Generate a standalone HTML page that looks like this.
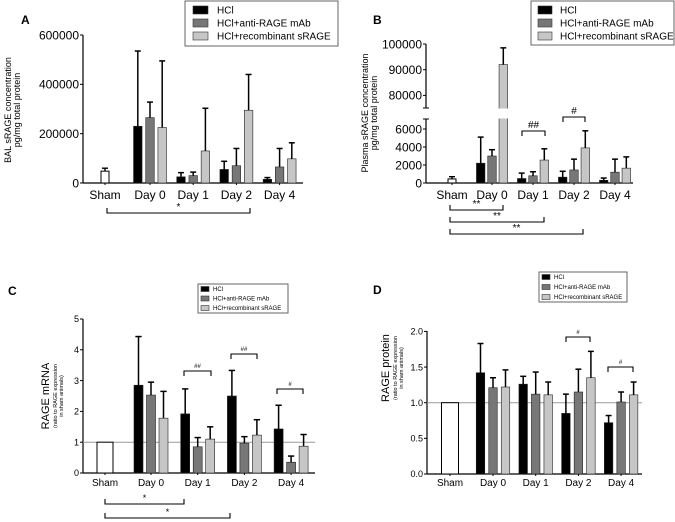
<!DOCTYPE html>
<html><head><meta charset="utf-8"><style>
body{margin:0;background:#fff}
svg{display:block;font-family:"Liberation Sans",Arial,sans-serif}
</style></head><body>
<svg id="fig" width="675" height="522" viewBox="0 0 675 522"></svg>
<script>
const groups = ["Day 0","Day 1","Day 2","Day 4"];
const seriesNames = ["HCl","HCl+anti-RAGE mAb","HCl+recombinant sRAGE"];
// Panel A
const aSham = [48000, 60000];
const aHCl = [230000, 25000, 55000, 15000];
const aHClErr = [535000, 42000, 88000, 22000];
const aAnti = [265000, 30000, 70000, 65000];
const aAntiErr = [328000, 44000, 140000, 140000];
const aRec = [225000, 130000, 295000, 98000];
const aRecErr = [495000, 303000, 440000, 163000];
const aTicks = [0, 200000, 400000, 600000];
// Panel B
const bSham = [450, 700];
const bHCl = [2200, 500, 650, 300];
const bHClErr = [5100, 1100, 1300, 550];
const bAnti = [3000, 800, 1450, 1200];
const bAntiErr = [3700, 1250, 2650, 2650];
const bRec = [92000, 2550, 3900, 1650];
const bRecErr = [98500, 3800, 5800, 2900];
const bTicksLow = [0, 2000, 4000, 6000];
const bTicksHigh = [80000, 90000, 100000];
// Panel C
const cSham = [1, 1];
const cHCl = [2.85, 1.92, 2.5, 1.43];
const cHClErr = [4.43, 2.73, 3.33, 2.2];
const cAnti = [2.53, 0.85, 0.97, 0.35];
const cAntiErr = [2.95, 1.15, 1.18, 0.55];
const cRec = [1.78, 1.1, 1.23, 0.87];
const cRecErr = [2.65, 1.5, 1.73, 1.25];
const cTicks = [0, 1, 2, 3, 4, 5];
// Panel D
const dSham = [1, 1];
const dHCl = [1.42, 1.26, 0.85, 0.72];
const dHClErr = [1.83, 1.37, 1.12, 0.82];
const dAnti = [1.21, 1.12, 1.15, 1.01];
const dAntiErr = [1.35, 1.43, 1.47, 1.15];
const dRec = [1.22, 1.11, 1.35, 1.11];
const dRecErr = [1.46, 1.29, 1.72, 1.29];
const dTicks = [0, 0.5, 1.0, 1.5, 2.0];

const NS = "http://www.w3.org/2000/svg";
const svg = document.getElementById("fig");
const colors = ["#000000", "#777777", "#c6c6c6"];
function mk(tag, attrs, parent, text) {
  const e = document.createElementNS(NS, tag);
  for (const k in attrs) e.setAttribute(k, attrs[k]);
  if (text !== undefined) e.textContent = text;
  (parent || svg).appendChild(e);
  return e;
}
function line(x1, y1, x2, y2, sw, col, g) {
  return mk("line", {x1: x1, y1: y1, x2: x2, y2: y2, stroke: col || "#000", "stroke-width": sw || 1}, g);
}

function panel(cfg) {
  const g = mk("g", {});
  
  
  const y = cfg.y;
  const ax = mk("g", {}, g);
  
  
  if (cfg.broken) {
    line(cfg.x0, cfg.topY, cfg.x0, cfg.breakHi, 1.2, "#000", ax);
    line(cfg.x0, cfg.breakLo, cfg.x0, cfg.y0, 1.2, "#000", ax);
  } else {
    line(cfg.x0, cfg.topY, cfg.x0, cfg.y0, 1.2, "#000", ax);
  }
  cfg.ticks.forEach((t) => {
    const ty = y(t);
    line(cfg.x0 - 3, ty, cfg.x0, ty, 1, "#000", ax);
    const lbl = mk("text", {x: cfg.x0 - 4, y: ty + cfg.tfs * 0.36, "font-size": cfg.tfs, "text-anchor": "end"}, ax, cfg.tickFmt(t));
    
    
  });
  const xa = line(cfg.x0, cfg.y0, cfg.x1, cfg.y0, 1.2, "#000", g);
  
  
  if (cfg.refLine) {
    const rl = mk("line", {x1: cfg.x0, x2: cfg.x1, y1: y(1), y2: y(1), stroke: "#999", "stroke-width": 1}, g);
    
    
  }
  const shamCats = ["Sham"].concat(groups);
  const sb = mk("rect", {x: cfg.shamX - cfg.shamW / 2, y: y(cfg.sham[0]), width: cfg.shamW, height: cfg.y0 - y(cfg.sham[0]), fill: "#fff", stroke: "#000", "stroke-width": 1}, g);
  
  
  if (cfg.sham[1] > cfg.sham[0]) {
    line(cfg.shamX, y(cfg.sham[0]), cfg.shamX, y(cfg.sham[1]), 1.4, "#000", g);
    line(cfg.shamX - 3, y(cfg.sham[1]), cfg.shamX + 3, y(cfg.sham[1]), 1.4, "#000", g);
  }
  const series = [[cfg.hcl, cfg.hclE], [cfg.anti, cfg.antiE], [cfg.rec, cfg.recE]];
  groups.forEach((gn, gi) => {
    const cx = cfg.g0 + gi * cfg.gs;
    series.forEach((s, si) => {
      const bx = cx + (si - 1) * cfg.step - cfg.bw / 2;
      const v = s[0][gi], ev = s[1][gi];
      const top = y(v);
      const r = mk("rect", {x: bx, y: top, width: cfg.bw, height: cfg.y0 - top, fill: colors[si], stroke: "#222", "stroke-width": 0.6}, g);
      
      
      if (cfg.broken && top < cfg.breakHi) {
        mk("rect", {x: bx - 1, y: cfg.breakHi + 0.5, width: cfg.bw + 2, height: cfg.breakLo - cfg.breakHi - 1, fill: "#fff"}, g);
      }
      const ex = bx + cfg.bw / 2;
      line(ex, top, ex, y(ev), 1.5, "#000", g);
      line(ex - cfg.bw * 0.35, y(ev), ex + cfg.bw * 0.35, y(ev), 1.5, "#000", g);
    });
  });
  if (cfg.broken) {
    line(cfg.x0 - 3, cfg.breakHi, cfg.x0 + 3, cfg.breakHi, 1, "#000", g);
    line(cfg.x0 - 3, cfg.breakLo, cfg.x0 + 3, cfg.breakLo, 1, "#000", g);
  }
  shamCats.forEach((c, i) => {
    const cx = i === 0 ? cfg.shamX : cfg.g0 + (i - 1) * cfg.gs;
    line(cx, cfg.y0, cx, cfg.y0 + 2, 1, "#000", g);
    const t = mk("text", {x: cx, y: cfg.labY, "font-size": cfg.xfs, "text-anchor": "middle"}, g, c);
    
    
  });
  const tt = mk("text", {transform: `translate(${cfg.ytX},${cfg.ytY}) rotate(-90)`, "font-size": cfg.ytFs, "text-anchor": "middle"}, g);
  
  
  cfg.ytLines.forEach((l, i) => mk("tspan", {x: 0, dy: i === 0 ? 0 : l[1], "font-size": l[2]}, tt, l[0]));
  const L = mk("text", {x: cfg.letter[1], y: cfg.letter[2], "font-size": 12, "font-weight": "bold"}, g, cfg.letter[0]);
  
  
  const lg = mk("g", {}, g);
  
  
  const Lc = cfg.legend;
  mk("rect", {x: Lc.x, y: Lc.y, width: Lc.w, height: Lc.h, fill: "#fff", stroke: "#666", "stroke-width": 1}, lg);
  seriesNames.forEach((n, i) => {
    const ey = Lc.y + Lc.pad + i * Lc.dy;
    const e = mk("g", {}, lg);
    
    
    mk("rect", {x: Lc.x + Lc.sx, y: ey - Lc.sh / 2, width: Lc.sw, height: Lc.sh, fill: colors[i], stroke: "#333", "stroke-width": 0.6}, e);
    mk("text", {x: Lc.x + Lc.sx + Lc.sw + Lc.gap, y: ey + Lc.fs * 0.36, "font-size": Lc.fs}, e, n);
  });
  cfg.brackets.forEach(b => {
    const bg = mk("g", {}, g);
    
    
    const d = b.down ? 5 : -5;
    mk("path", {d: `M${b.x1},${b.y + d}V${b.y}H${b.x2}V${b.y + d}`, fill: "none", stroke: "#000", "stroke-width": 1.1}, bg);
    mk("text", {x: (b.x1 + b.x2) / 2, y: b.y - 3, "font-size": b.fs || 9, "text-anchor": "middle"}, bg, b.t);
  });
}

panel({id: "panel-a", x0: 83, x1: 303, y0: 183, topY: 35,
  y: v => 183 - v / 600000 * 148, ticks: aTicks, tickFmt: t => String(t), tfs: 12,
  sham: aSham, shamX: 105, shamW: 8, hcl: aHCl, hclE: aHClErr, anti: aAnti, antiE: aAntiErr, rec: aRec, recE: aRecErr,
  g0: 150, gs: 43.2, step: 12.2, bw: 8.5, labY: 199, xfs: 12,
  ytX: 11, ytY: 110, ytFs: 9, ytLines: [["BAL sRAGE concentration", 0, 9], ["pg/mg total protein", 9, 9]],
  letter: ["A", 21, 24],
  legend: {x: 185, y: 1, w: 153, h: 45, pad: 9, dy: 13, sx: 8, sw: 15, sh: 8, gap: 9, fs: 10},
  brackets: [{x1: 107, x2: 250, y: 213, t: "*", down: false, fs: 10}]
});
const bY = v => v <= 7000 ? 183 - v / 2000 * 18 : 44 + (100000 - v) / 10000 * 25.7;
panel({id: "panel-b", x0: 426, x1: 633, y0: 183, topY: 44, broken: true, breakHi: 108, breakLo: 119,
  y: bY, ticks: bTicksLow.concat(bTicksHigh), tickFmt: t => String(t), tfs: 12,
  sham: bSham, shamX: 452, shamW: 8, hcl: bHCl, hclE: bHClErr, anti: bAnti, antiE: bAntiErr, rec: bRec, recE: bRecErr,
  g0: 492, gs: 41, step: 11.3, bw: 8.5, labY: 199, xfs: 12,
  ytX: 368, ytY: 113, ytFs: 9, ytLines: [["Plasma sRAGE concentration", 0, 9], ["pg/mg total protein", 9, 9]],
  letter: ["B", 373, 24],
  legend: {x: 531, y: 1, w: 143, h: 44, pad: 9, dy: 13, sx: 7, sw: 14, sh: 8, gap: 8, fs: 10},
  brackets: [
    {x1: 450, x2: 503, y: 210, t: "**", down: false, fs: 10},
    {x1: 450, x2: 544, y: 222, t: "**", down: false, fs: 10},
    {x1: 450, x2: 583, y: 234, t: "**", down: false, fs: 10},
    {x1: 522, x2: 545, y: 131, t: "##", down: true, fs: 10},
    {x1: 563, x2: 585, y: 117, t: "#", down: true, fs: 10}]
});
panel({id: "panel-c", x0: 83, x1: 315, y0: 473, topY: 319, refLine: true,
  y: v => 473 - v * 30.8, ticks: cTicks, tickFmt: t => String(t), tfs: 9,
  sham: cSham, shamX: 105, shamW: 16, hcl: cHCl, hclE: cHClErr, anti: cAnti, antiE: cAntiErr, rec: cRec, recE: cRecErr,
  g0: 151, gs: 46.7, step: 12.5, bw: 9, labY: 486, xfs: 10,
  ytX: 49, ytY: 396, ytFs: 11, ytLines: [["RAGE mRNA", 0, 11], ["(ratio to RAGE expression", 8, 5.5], ["in sham animals)", 6, 5.5]],
  letter: ["C", 8, 295],
  legend: {x: 198, y: 284, w: 90, h: 29, pad: 5, dy: 9.5, sx: 3, sw: 8, sh: 5, gap: 4, fs: 6},
  brackets: [
    {x1: 105, x2: 184, y: 504, t: "*", down: false},
    {x1: 105, x2: 230, y: 518, t: "*", down: false},
    {x1: 184, x2: 211, y: 371, t: "##", down: true, fs: 6},
    {x1: 231, x2: 257, y: 354, t: "##", down: true, fs: 6},
    {x1: 277, x2: 303, y: 389, t: "#", down: true, fs: 6}]
});
panel({id: "panel-d", x0: 427, x1: 642, y0: 474, topY: 331, refLine: true,
  y: v => 474 - v * 71.3, ticks: dTicks, tickFmt: t => t.toFixed(1), tfs: 9,
  sham: dSham, shamX: 450, shamW: 17, hcl: dHCl, hclE: dHClErr, anti: dAnti, antiE: dAntiErr, rec: dRec, recE: dRecErr,
  g0: 493, gs: 42.7, step: 12.5, bw: 8.5, labY: 486, xfs: 10,
  ytX: 389, ytY: 368, ytFs: 11, ytLines: [["RAGE protein", 0, 11], ["(ratio to RAGE expression", 8, 5.5], ["in sham animals)", 6, 5.5]],
  letter: ["D", 373, 294],
  legend: {x: 539, y: 272, w: 88, h: 30, pad: 5, dy: 10, sx: 3, sw: 8, sh: 5, gap: 4, fs: 6},
  brackets: [
    {x1: 566, x2: 590, y: 337, t: "#", down: true, fs: 6},
    {x1: 608, x2: 633, y: 367, t: "#", down: true, fs: 6}]
});
</script>
</body></html>
